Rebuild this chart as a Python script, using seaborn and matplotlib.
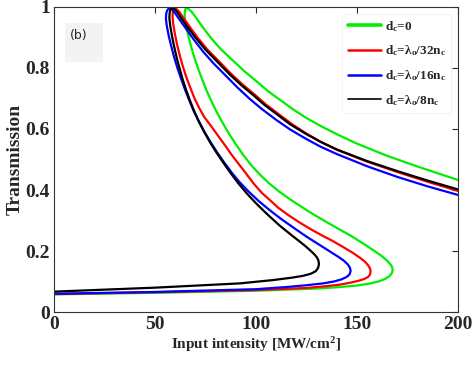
import matplotlib
matplotlib.use("Agg")
import matplotlib.pyplot as plt
from matplotlib.patches import Rectangle
import pandas as pd
import seaborn as sns

# Points: lower branch -> nose -> middle branch -> tip -> upper branch
BLACK_I = [0, 50, 92, 108.6, 118, 123.5, 127.3, 129.6, 130.8, 131.2, 130.9, 130.1, 128.8, 126.9, 124.5,
           121.5, 118, 112, 106.5, 101, 96, 91.5, 87.5, 84, 80.5, 77.3, 74.4, 71.7, 69.3, 67.2, 65.3, 63.6,
           62.1, 60.7, 59.5, 58.4, 57.5, 57.1, 57.3, 57.8, 58.4, 59.4, 60.8, 63, 66, 70, 75, 80.5, 86.5, 92.5,
           98.5, 104, 110, 117, 125, 132, 140, 155, 170, 185, 200]
BLACK_T = [0.067, 0.080, 0.094, 0.105, 0.113, 0.119, 0.126, 0.134, 0.145, 0.158, 0.170, 0.180, 0.190, 0.202,
           0.216, 0.232, 0.250, 0.282, 0.315, 0.350, 0.385, 0.420, 0.455, 0.488, 0.522, 0.556, 0.590, 0.625,
           0.660, 0.695, 0.730, 0.765, 0.800, 0.835, 0.870, 0.905, 0.940, 0.965, 0.983, 0.993, 0.996, 0.995,
           0.985, 0.963, 0.935, 0.900, 0.860, 0.823, 0.782, 0.745, 0.712, 0.680, 0.650, 0.615, 0.583, 0.558,
           0.533, 0.495, 0.462, 0.431, 0.402]

BLUE_I = [0, 50, 100, 115, 125, 133.3, 138.5, 142.3, 144.9, 146.4, 146.9, 146.5, 145.5, 143.6, 140.8, 137,
          132, 125.1, 118.5, 112.5, 107, 101.5, 96.5, 92, 88, 84.3, 80.8, 77.5, 74.5, 71.7, 69.1, 66.9, 64.8,
          62.9, 61.1, 59.5, 58.1, 56.8, 55.8, 55.4, 55.6, 56.2, 57.1, 58.3, 59.7, 62, 65, 69, 74, 79, 85, 91,
          97, 103, 110, 117, 125, 132, 140, 155, 170, 185, 200]
BLUE_T = [0.060, 0.066, 0.075, 0.082, 0.088, 0.094, 0.100, 0.107, 0.115, 0.124, 0.135, 0.146, 0.156, 0.168,
          0.181, 0.197, 0.218, 0.247, 0.277, 0.305, 0.333, 0.363, 0.394, 0.425, 0.457, 0.490, 0.523, 0.557,
          0.590, 0.625, 0.660, 0.695, 0.730, 0.765, 0.800, 0.835, 0.870, 0.905, 0.940, 0.962, 0.980, 0.991,
          0.995, 0.993, 0.982, 0.960, 0.932, 0.895, 0.852, 0.815, 0.775, 0.735, 0.698, 0.665, 0.630, 0.598,
          0.567, 0.542, 0.518, 0.478, 0.443, 0.412, 0.384]

RED_I = [0, 50, 100, 125, 135, 141.6, 146.5, 150.5, 153.5, 155.5, 156.5, 156.8, 156.5, 155.6, 154, 151.5,
         148, 143.5, 138, 133, 127, 121, 116, 111, 106.9, 103, 99, 95, 91.5, 88, 84.5, 81, 77.5, 74.3, 71.8,
         69.6, 67.5, 65.5, 63.8, 62.3, 61, 59.9, 59, 58.7, 58.9, 59.4, 60.5, 62, 64.2, 67.2, 71, 76, 81.5,
         87.5, 93.5, 99.5, 105, 111, 118, 125, 132, 140, 155, 170, 185, 200]
RED_T = [0.059, 0.065, 0.072, 0.079, 0.085, 0.090, 0.096, 0.102, 0.108, 0.115, 0.123, 0.132, 0.143, 0.153,
         0.165, 0.178, 0.194, 0.212, 0.233, 0.250, 0.272, 0.296, 0.318, 0.342, 0.367, 0.390, 0.420, 0.455,
         0.485, 0.515, 0.548, 0.580, 0.612, 0.640, 0.670, 0.700, 0.735, 0.770, 0.805, 0.840, 0.875, 0.910,
         0.945, 0.970, 0.987, 0.995, 0.994, 0.984, 0.963, 0.935, 0.900, 0.860, 0.823, 0.782, 0.745, 0.712,
         0.680, 0.650, 0.615, 0.585, 0.558, 0.532, 0.493, 0.459, 0.427, 0.397]

GREEN_I = [0, 50, 100, 130, 141.6, 150, 156, 160.5, 163.8, 166, 167.3, 167.7, 167.4, 166.5, 164.7, 162,
           158.1, 153, 147.5, 141.6, 135, 128.5, 122.5, 116.8, 111.5, 106.5, 102, 97.8, 93.7, 90, 86.6, 83.5,
           80.6, 78, 75.6, 73.5, 71.5, 69.7, 68.1, 66.7, 65.5, 64.8, 64.7, 64.9, 65.3, 66.5, 68.2, 70.5, 73.5,
           77.5, 82.5, 88.5, 94.5, 100.5, 106, 112, 118, 125, 132, 140, 150, 165, 180, 200]
GREEN_T = [0.058, 0.063, 0.070, 0.077, 0.082, 0.087, 0.093, 0.100, 0.108, 0.117, 0.127, 0.138, 0.148, 0.157,
           0.170, 0.185, 0.203, 0.225, 0.248, 0.270, 0.295, 0.320, 0.345, 0.370, 0.395, 0.422, 0.450, 0.480,
           0.515, 0.550, 0.585, 0.620, 0.655, 0.690, 0.725, 0.760, 0.795, 0.830, 0.865, 0.900, 0.935, 0.960,
           0.978, 0.990, 0.996, 0.994, 0.984, 0.963, 0.935, 0.900, 0.862, 0.825, 0.788, 0.755, 0.724, 0.695,
           0.666, 0.636, 0.610, 0.583, 0.552, 0.512, 0.477, 0.433]

LABELS = [r"$d_c$=0", r"$d_c$=$\lambda_o$/32$n_c$", r"$d_c$=$\lambda_o$/16$n_c$", r"$d_c$=$\lambda_o$/8$n_c$"]
COLORS = ["#00ee00", "#ff0000", "#0000ff", "#000000"]
LEGEND_WIDTHS = [2.6, 1.8, 1.8, 1.2]

sns.set_style("white")
plt.rcParams["font.family"] = ["Liberation Serif", "DejaVu Serif"]
plt.rcParams["font.weight"] = "bold"
plt.rcParams["mathtext.fontset"] = "custom"
plt.rcParams["mathtext.rm"] = "Liberation Serif:bold"
plt.rcParams["mathtext.it"] = "Liberation Serif:bold"
plt.rcParams["mathtext.bf"] = "Liberation Serif:bold"
plt.rcParams["mathtext.default"] = "bf"

fig = plt.figure(figsize=(4.74, 3.65), dpi=100)
ax = fig.add_axes([0.114, 0.145, 0.852, 0.836])

curves = [(GREEN_I, GREEN_T), (RED_I, RED_T), (BLUE_I, BLUE_T), (BLACK_I, BLACK_T)]
for (xs, ys), label, color in zip(curves, LABELS, COLORS):
    df = pd.DataFrame({"I": xs, "T": ys})
    sns.lineplot(data=df, x="I", y="T", sort=False, estimator=None, color=color, lw=1.6, label=label, ax=ax)

ax.set_xlim(0, 200)
ax.set_ylim(0, 1)
ax.set_xticks([0, 50, 100, 150, 200])
ax.set_yticks([0, 0.2, 0.4, 0.6, 0.8, 1])
ax.set_yticklabels(["0", "0.2", "0.4", "0.6", "0.8", "1"])
ax.tick_params(direction="in", top=True, right=True, length=4, labelsize=14, width=0.8, pad=3)
for lab in ax.get_xticklabels() + ax.get_yticklabels():
    lab.set_fontweight("bold")
for sp in ax.spines.values():
    sp.set_linewidth(0.8)
    sp.set_color("#333333")

ax.set_xlabel(r"Input intensity [MW/cm$^2$]", fontsize=11, fontweight="bold", labelpad=1)
ax.set_ylabel("Transmission", fontsize=14, fontweight="bold", labelpad=1)

# panel tag in a light grey box
ax.add_patch(Rectangle((0.027, 0.82), 0.094, 0.128, transform=ax.transAxes, facecolor="#f3f3f3",
                       edgecolor="none", zorder=0))
ax.text(0.04, 0.905, "(b)", transform=ax.transAxes, fontsize=9, family="DejaVu Sans", fontweight="normal",
        va="center", ha="left")

leg = ax.legend(loc="upper right", fontsize=9.5, frameon=True, handlelength=2.5, labelspacing=0.75,
                borderaxespad=0.5, handletextpad=0.3)
leg.get_frame().set_edgecolor("#eeeeee")
leg.get_frame().set_linewidth(0.6)
for handle, w in zip(leg.get_lines(), LEGEND_WIDTHS):
    handle.set_linewidth(w)

fig.savefig("out.png", dpi=100)
